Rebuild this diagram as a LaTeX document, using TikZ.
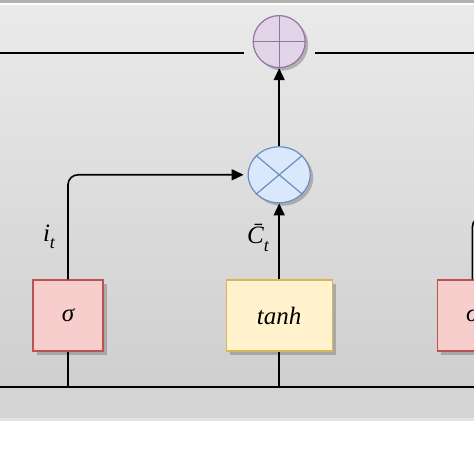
\documentclass[tikz,border=0pt]{standalone}
\usepackage{fontspec}
\setmainfont{Liberation Serif}
\usepackage{xcolor}
\usepackage{tikz}
\usetikzlibrary{shapes.geometric, arrows.meta, positioning, calc, shadows}

\definecolor{gatefill}{HTML}{F8CECC}
\definecolor{gatedraw}{HTML}{B85450}
\definecolor{tanhfill}{HTML}{FFF2CC}
\definecolor{tanhdraw}{HTML}{D6B656}
\definecolor{mulfill}{HTML}{DAE8FC}
\definecolor{muldraw}{HTML}{6C8EBF}
\definecolor{addfill}{HTML}{E1D5E7}
\definecolor{adddraw}{HTML}{9673A6}
\definecolor{paneltop}{HTML}{EAEAEA}
\definecolor{panelbot}{HTML}{CFCFCF}

\newcommand{\sub}[1]{\raisebox{-0.3em}{\fontsize{18}{18}\selectfont #1}}

\begin{document}
\begin{tikzpicture}[
    x=1pt, y=1pt,
    node distance=2cm,
    gate/.style={draw=gatedraw, fill=gatefill, line width=1.2pt, minimum width=70pt, minimum height=71pt,
        font=\fontsize{25}{28}\selectfont\itshape, drop shadow={shadow xshift=4pt, shadow yshift=-4pt, fill=black!45, opacity=0.6}},
    act/.style={gate, draw=tanhdraw, fill=tanhfill, minimum width=106pt},
    mulop/.style={draw=muldraw, fill=mulfill, ellipse, line width=1.2pt, minimum width=62pt, minimum height=56pt,
        drop shadow={shadow xshift=3pt, shadow yshift=-3pt, fill=black!45, opacity=0.6}},
    addop/.style={draw=adddraw, fill=addfill, circle, line width=1.2pt, minimum size=52pt,
        drop shadow={shadow xshift=3pt, shadow yshift=-3pt, fill=black!45, opacity=0.6}},
    line/.style={draw, line width=1.6pt},
    flow/.style={line, -{Triangle[length=12pt, width=11pt]}},
    lbl/.style={font=\fontsize{25}{28}\selectfont\itshape, inner sep=0pt}
]
    \clip (0,0) rectangle (474,474);

    % Panel background
    \fill[white] (0,0) rectangle (474,474);
    \fill[black!30] (0,471) rectangle (474,474);
    \shade[top color=paneltop, bottom color=panelbot] (0,87) rectangle (474,468);
    \fill[black!17] (0,56) rectangle (474,87);
    \fill[black!11] (0,53) rectangle (474,56);

    % Gates
    \node[gate] (sig1) at (68,158.5) {σ};
    \node[act, right=122pt of sig1] (tanh) {tanh};
    \node[gate, right=104pt of tanh] (sig3) {σ};

    % Point-wise operations
    \node[mulop, above=76pt of tanh] (times) {};
    \draw[muldraw, line width=1.2pt] (times.40) -- (times.220) (times.140) -- (times.320);
    \node[addop, above=78pt of times] (plus) {};
    \draw[adddraw, line width=1.2pt] (plus.north) -- (plus.south) (plus.west) -- (plus.east);

    % Cell state and input rails
    \coordinate (cin) at (0,421);
    \coordinate (cout) at (474,421);
    \coordinate (xin) at (0,87);
    \coordinate (xout) at (474,87);
    \coordinate (fout) at (500,257);
    \draw[line, shorten >=9pt] (cin) -- (plus.west |- cin);
    \draw[line, shorten <=9pt] (plus.east |- cout) -- (cout);
    \draw[line] (xin) -- (xout);
    \draw[line] (sig1.south) -- (sig1.south |- xin);
    \draw[line] (tanh.south) -- (tanh.south |- xin);

    % Gate outputs
    \draw[flow, rounded corners=10pt, shorten >=4pt] (sig1.north) |- (times.west);
    \draw[flow] (tanh.north) -- (times.south);
    \draw[flow] (times.north) -- (plus.south);
    \draw[line, rounded corners=10pt] (sig3.north) |- (fout);

    % Labels
    \node[lbl] (it) at (49,237) {i\sub{t}};
    \node[lbl] (ct) at (258,236) {\={C}\sub{t}};
\end{tikzpicture}
\end{document}
